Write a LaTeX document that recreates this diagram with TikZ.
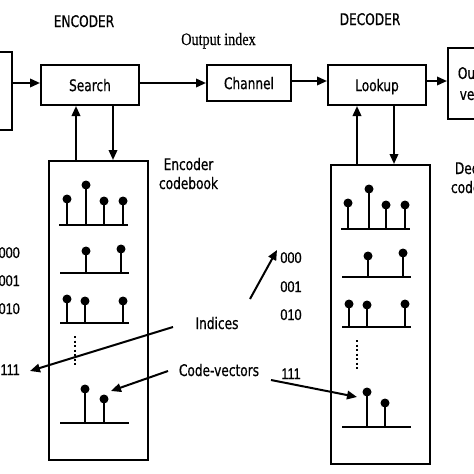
\documentclass[tikz,border=0pt]{standalone}
\usepackage{fontspec}
\usetikzlibrary{arrows.meta}
\newfontfamily\sansf[FakeStretch=0.76,FakeBold=0.6]{DejaVu Sans}
\newfontfamily\digitf[FakeStretch=0.82,FakeBold=0.6]{Liberation Sans}
\newfontfamily\seriff[FakeStretch=0.81,FakeBold=0.4]{Liberation Serif}
\newcommand\stm[3]{\draw[stemline] (#1,#2) -- (#1,#3); \fill (#1,#3) circle (4.5pt);}
\begin{document}
\begin{tikzpicture}[x=1pt,y=-1pt,
  box/.style={draw, line width=2pt, inner sep=0pt, text depth=0pt,
              font=\sansf\fontsize{16}{20}\selectfont},
  arr/.style={line width=2pt, -{Triangle[length=10pt,width=8.5pt]}},
  lbl/.style={font=\sansf\fontsize{16}{19}\selectfont, anchor=base, inner sep=0pt},
  dig/.style={font=\digitf\fontsize{15.5}{18}\selectfont, anchor=base, inner sep=0pt},
  stemline/.style={line width=2pt},
  dotline/.style={line width=2.2pt, dash pattern=on 2pt off 2.5pt}]
\useasboundingbox (0,0) rectangle (474,474);
\fill[white] (0,0) rectangle (474,474);
\clip (0,0) rectangle (474,474);

% headers
\node[lbl] (enc) at (84,27) {ENCODER};
\node[lbl] (dec) at (370,25) {DECODER};
\node[font=\seriff\fontsize{17.5}{20}\selectfont, anchor=base, inner sep=0pt] (oidx) at (218.5,45) {Output index};

% top boxes
\node[box, minimum width=32pt, minimum height=78pt] (inp) at (-4,91) {};
\node[box, minimum width=98pt, minimum height=40pt] (search) at (90,85) {Search};
\node[box, minimum width=84pt, minimum height=36pt] (channel) at (249,83) {Channel};
\node[box, minimum width=98pt, minimum height=40pt] (lookup) at (377,85) {Lookup};
\node[box, minimum width=62pt, minimum height=71pt, align=center] (out) at (479,83.5) {Output\\[1pt]vector};

\draw[arr] ([yshift=2pt]search.west -| inp.east) -- ([yshift=2pt]search.west);
\draw[arr] (search.east |- channel.west) -- (channel.west);
\draw[arr] ([yshift=2pt]channel.east) -- ([yshift=2pt]channel.east -| lookup.west);
\draw[arr] ([yshift=4pt]lookup.east) -- ([yshift=4pt]lookup.east -| out.west);

% codebook boxes
\node[box, minimum width=99pt, minimum height=299pt] (enccb) at (98.5,310.5) {};
\node[box, minimum width=99pt, minimum height=299pt] (deccb) at (380.5,314.5) {};

\coordinate (eu) at (76,0);
\coordinate (ed) at (113,0);
\coordinate (du) at (357,0);
\coordinate (dd) at (394,0);
\draw[arr] (eu |- enccb.north) -- (eu |- search.south);
\draw[arr] (ed |- search.south) -- (ed |- enccb.north);
\draw[arr] (du |- deccb.north) -- (du |- lookup.south);
\draw[arr] (dd |- lookup.south) -- (dd |- deccb.north);

\node[lbl, align=center, anchor=base] (enclbl) at (188.5,189) {Encoder\\[0pt]codebook};
\node[lbl, align=center, anchor=base] (declbl) at (480.5,193) {Decoder\\[0pt]codebook};

% encoder stems
\draw[stemline] (59,225) -- (128,225);
\stm{67}{225}{199}\stm{86}{225}{185}\stm{104}{225}{201}\stm{123}{225}{201}
\draw[stemline] (60,273) -- (129,273);
\stm{86}{273}{251}\stm{121}{273}{249}
\draw[stemline] (60,323) -- (129,323);
\stm{67}{323}{299}\stm{85}{323}{301}\stm{123}{323}{301}
\draw[dotline] (75,336) -- (75,366);
\draw[stemline] (60,423) -- (129,423);
\stm{85}{423}{389}\stm{104}{423}{399}

% decoder stems
\draw[stemline] (341,229) -- (410,229);
\stm{348}{229}{203}\stm{369}{229}{189}\stm{386}{229}{205}\stm{405}{229}{205}
\draw[stemline] (342,277) -- (411,277);
\stm{368}{277}{256}\stm{403}{277}{253}
\draw[stemline] (342,327) -- (411,327);
\stm{349}{327}{304}\stm{367}{327}{305}\stm{405}{327}{304}
\draw[dotline] (357,340) -- (357,370);
\draw[stemline] (342,427) -- (411,427);
\stm{367}{427}{392}\stm{385}{427}{403}

% index labels
\node[dig, anchor=base east] (e000) at (20,258) {000};
\node[dig, anchor=base east] (e001) at (20,286) {001};
\node[dig, anchor=base east] (e010) at (20,314) {010};
\node[dig, anchor=base east] (e111) at (20,375) {111};
\node[dig] (d000) at (291,263) {000};
\node[dig] (d001) at (291,292) {001};
\node[dig] (d010) at (291,320) {010};
\node[dig] (d111) at (291,379) {111};

\node[lbl] (indices) at (217,329) {Indices};
\node[lbl] (codevec) at (219,376) {Code-vectors};

\coordinate (ia) at (173,327);
\coordinate (ib) at (30,371);
\coordinate (ic) at (250,299);
\coordinate (id) at (277,250);
\coordinate (ca) at (168,371);
\coordinate (cb) at (111,391);
\coordinate (cc) at (271,380);
\coordinate (cd) at (357,397);
\draw[arr] (ia) -- (ib);
\draw[arr] (ic) -- (id);
\draw[arr] (ca) -- (cb);
\draw[arr] (cc) -- (cd);
\end{tikzpicture}
\end{document}
